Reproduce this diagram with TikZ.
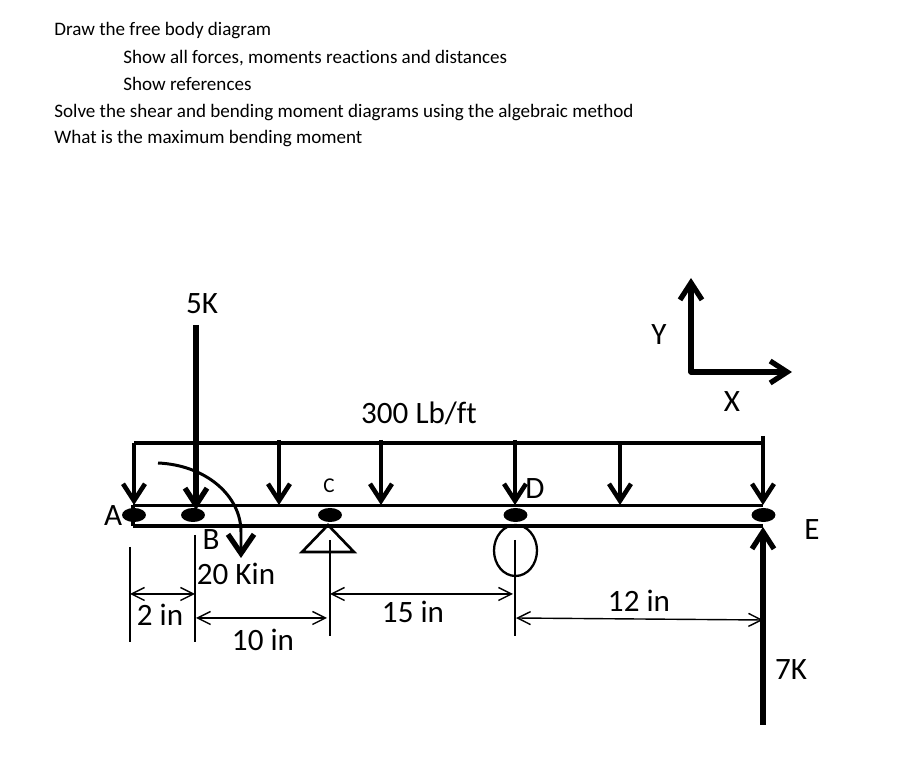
\documentclass[tikz,border=0pt]{standalone}
\usepackage{fontspec}
\setmainfont{Carlito}[Ligatures=NoCommon]
\usetikzlibrary{arrows.meta}
\usetikzlibrary{shapes.geometric}
\tikzset{circ/.style = {fill, ellipse, inner sep = 0, minimum width = 0.48cm, minimum height = 0.28cm}}
\tikzset{prob/.style = {anchor = base west, inner sep = 0, font = \fontsize{10.85}{12}\selectfont}}
\tikzset{lab/.style = {inner sep = 0, font = \fontsize{17.7}{19}\selectfont}}
\tikzset{beam/.style = {line width = 2pt}}
\tikzset{load/.style = {line width = 2.2pt, -{Straight Barb[length=0.34cm, width=0.44cm, line width=2.6pt]}}}
\tikzset{heavy/.style = {line width = 3pt, -{Straight Barb[length=0.34cm, width=0.44cm, line width=3pt]}}}
\tikzset{momt/.style = {line width = 1.7pt, -{Straight Barb[length=0.38cm, width=0.52cm, line width=3pt]}}}
\tikzset{dim/.style = {line width = 0.8pt, <->, >={Straight Barb[length=0.26cm, width=0.26cm, line width=0.8pt]}}}
\tikzset{tick/.style = {line width = 0.9pt}}
\begin{document}
\begin{tikzpicture}[x=0.02cm, y=-0.02cm]
    \useasboundingbox (0, 0) rectangle (904, 780);
    % statement
    \node [prob] (t1) at (54, 36) {Draw the free body diagram};
    \node [prob] (t2) at (123, 64) {Show all forces, moments reactions and distances};
    \node [prob] (t3) at (123, 91) {Show references};
    \node [prob] (t4) at (54, 118) {Solve the shear and bending moment diagrams using the algebraic method};
    \node [prob] (t5) at (54, 144) {What is the maximum bending moment};

    % beam
    \coordinate (bl) at (133, 505.5);
    \coordinate (br) at (763, 505.5);
    \coordinate (cl) at (133, 526);
    \coordinate (cr) at (763, 526);
    \draw [beam] (bl) -- (br);
    \draw [beam] (cl) -- (cr);
    \draw [beam] (bl) -- (cl);
    \coordinate (ll) at (134, 443);
    \coordinate (lr) at (763, 443);
    \draw [beam] (ll) -- (lr);

    % distributed load
    \foreach \n/\x/\t in {a/134/443, c/279/440, d/381/440, e/515/440, f/620/443, g/763/436} {
      \coordinate (top\n) at (\x, \t);
      \coordinate (tip\n) at (\x, 505);
      \draw [load] (top\n) -- (tip\n);
    }

    % supports and points
    \node [circ] (A) at (134, 515) {};
    \node [circ] (B) at (193, 515) {};
    \node [circ] (C) at (330, 515) {};
    \node [circ] (D) at (515.5, 515) {};
    \node [circ] (E) at (763.5, 515) {};
    \coordinate (tria) at (328, 525);
    \coordinate (trib) at (354, 552);
    \coordinate (tric) at (302, 552);
    \draw [line width = 1.5pt] (tria) -- (trib) -- (tric) -- cycle;
    \draw [line width = 1.3pt] (515.5, 550.5) ellipse (21.5 and 25.5);

    % forces
    \coordinate (ftop) at (196, 325);
    \coordinate (fbot) at (196, 510);
    \draw [heavy] (ftop) -- (fbot);
    \coordinate (etop) at (763, 725);
    \coordinate (ebot) at (763, 527);
    \draw [heavy] (etop) -- (ebot);
    \coordinate (mstart) at (158, 463);
    \coordinate (mbend) at (241, 532);
    \coordinate (mend) at (241, 558);
    \draw [momt] (mstart) .. controls (205, 465) and (241, 495) .. (mbend) -- (mend);

    % dimensions
    \foreach \n/\x/\a/\b in {p/130/547/642, q/195/535/642, r/330/540/636, s/515/540/636} {
      \coordinate (up\n) at (\x, \a);
      \coordinate (dn\n) at (\x, \b);
      \draw [tick] (up\n) -- (dn\n);
    }
    \coordinate (d1) at (130, 594);
    \coordinate (d2) at (195, 594);
    \coordinate (d3) at (196, 618);
    \coordinate (d4) at (327, 618);
    \coordinate (d5) at (330, 594);
    \coordinate (d6) at (513, 594);
    \coordinate (d7) at (516, 618);
    \coordinate (d8) at (763, 620);
    \draw [dim] (d1) -- (d2);
    \draw [dim] (d3) -- (d4);
    \draw [dim] (d5) -- (d6);
    \draw [dim] (d7) -- (d8);

    % axes
    \coordinate (o) at (691, 372);
    \coordinate (oy) at (691, 278);
    \coordinate (ox) at (792, 372);
    \draw [heavy, line cap = round] (o) -- (oy);
    \draw [heavy, line cap = round] (o) -- (ox);

    % labels
    \node [lab] (fivek) at (202, 304) {5K};
    \node [lab] (sevenk) at (791, 670) {7K};
    \node [lab] (w) at (419, 413) {300 Lb/ft};
    \node [lab] (mom) at (236, 574) {20 Kin};
    \node [lab] (la) at (113, 516) {A};
    \node [lab] (lb) at (211, 540) {B};
    \node [lab, font = \fontsize{12}{13}\selectfont] (lc) at (329, 486) {C};
    \node [lab] (ld) at (535, 489) {D};
    \node [lab] (le) at (812, 530) {E};
    \node [lab] (dim2) at (160, 615) {2 in};
    \node [lab] (dim10) at (263, 640) {10 in};
    \node [lab] (dim15) at (413, 612) {15 in};
    \node [lab] (dim12) at (639, 601) {12 in};
    \node [lab] (ly) at (659, 335) {Y};
    \node [lab] (lx) at (732, 402) {X};
\end{tikzpicture}
\end{document}
